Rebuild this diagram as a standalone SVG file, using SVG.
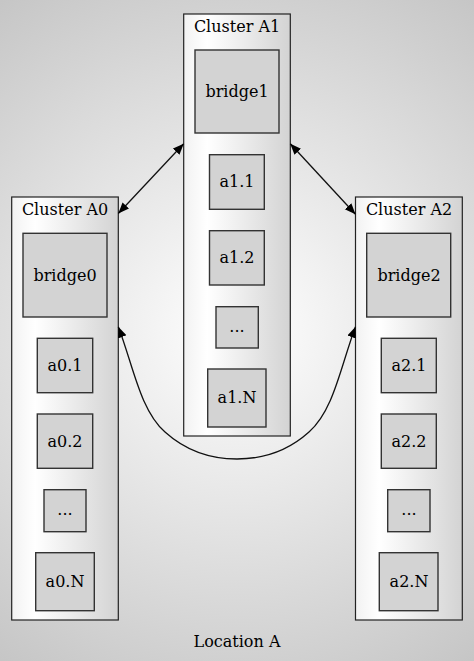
<svg xmlns="http://www.w3.org/2000/svg" width="474" height="661" viewBox="0 0 474 661">
<defs>
<radialGradient id="bg" gradientUnits="userSpaceOnUse" cx="237" cy="330" r="405">
<stop offset="0" stop-color="#ffffff"/>
<stop offset="1" stop-color="#c6c6c6"/>
</radialGradient>
<linearGradient id="cl" x1="0" y1="0" x2="1" y2="0">
<stop offset="0" stop-color="#f2f2f2"/>
<stop offset="0.22" stop-color="#ffffff"/>
<stop offset="1" stop-color="#d3d3d3"/>
</linearGradient>
<marker id="ah" viewBox="0 0 11 10" refX="11" refY="5" markerWidth="11" markerHeight="10" markerUnits="userSpaceOnUse" orient="auto-start-reverse">
<path d="M0,0.5 L11,5 L0,9.5 Z" fill="#000"/>
</marker>
<style>
text{font-family:"DejaVu Serif","Liberation Serif",serif;font-size:16px;fill:#000;text-anchor:middle}
.cluster{fill:url(#cl);stroke:#222;stroke-width:1.2}
.node rect{fill:#d3d3d3;stroke:#333;stroke-width:1.4}
.edge{fill:none;stroke:#111;stroke-width:1.3;marker-start:url(#ah);marker-end:url(#ah)}
</style>
</defs>
<rect x="0" y="0" width="474" height="661" fill="url(#bg)"/>

<g id="clusterA1">
<rect class="cluster" x="183.7" y="14" width="106.6" height="422"/>
<text x="237" y="32">Cluster A1</text>
</g>
<g id="clusterA0">
<rect class="cluster" x="11.7" y="197" width="106.6" height="423"/>
<text x="65" y="215">Cluster A0</text>
</g>
<g id="clusterA2">
<rect class="cluster" x="355.5" y="197" width="106.8" height="423"/>
<text x="409" y="215">Cluster A2</text>
</g>

<g id="bridge1" class="node"><rect x="195" y="50" width="84" height="83"/><text x="237" y="97">bridge1</text></g>
<g id="a1_1" class="node"><rect x="209.5" y="154.7" width="54.8" height="54.6"/><text x="237" y="187">a1.1</text></g>
<g id="a1_2" class="node"><rect x="209.5" y="230.7" width="54.8" height="54.3"/><text x="237" y="263">a1.2</text></g>
<g id="a1_dots" class="node"><rect x="216" y="306.7" width="42.3" height="41.3"/><text x="237" y="332">...</text></g>
<g id="a1_N" class="node"><rect x="207.7" y="369" width="58.3" height="58"/><text x="237" y="403">a1.N</text></g>

<g id="bridge0" class="node"><rect x="23" y="233.3" width="84" height="83.7"/><text x="65" y="281">bridge0</text></g>
<g id="a0_1" class="node"><rect x="37.3" y="338.3" width="55.4" height="54.4"/><text x="65" y="371">a0.1</text></g>
<g id="a0_2" class="node"><rect x="37.3" y="414" width="55.4" height="54.3"/><text x="65" y="447">a0.2</text></g>
<g id="a0_dots" class="node"><rect x="44" y="489.7" width="42" height="42"/><text x="65" y="515">...</text></g>
<g id="a0_N" class="node"><rect x="35.7" y="552.7" width="58.6" height="58"/><text x="65" y="587">a0.N</text></g>

<g id="bridge2" class="node"><rect x="366.7" y="233.3" width="84" height="83.7"/><text x="409" y="281">bridge2</text></g>
<g id="a2_1" class="node"><rect x="381.3" y="338.3" width="55" height="54.4"/><text x="409" y="371">a2.1</text></g>
<g id="a2_2" class="node"><rect x="381.3" y="414" width="55" height="54.3"/><text x="409" y="447">a2.2</text></g>
<g id="a2_dots" class="node"><rect x="387.7" y="489.7" width="42.3" height="42"/><text x="409" y="515">...</text></g>
<g id="a2_N" class="node"><rect x="379.3" y="552.7" width="58.7" height="58"/><text x="409" y="587">a2.N</text></g>

<g id="edges">
<path class="edge" d="M118.3,213.5 L183.7,143.7"/>
<path class="edge" d="M290.3,143.7 L355.5,214.3"/>
<path class="edge" d="M118.3,326.7 C133,365 140,410 165,432 C185,450 210,459 237,459 C264,459 289,450 309,432 C334,410 341,365 355.5,326.7"/>
</g>

<text id="location" x="237" y="647">Location A</text>
</svg>
